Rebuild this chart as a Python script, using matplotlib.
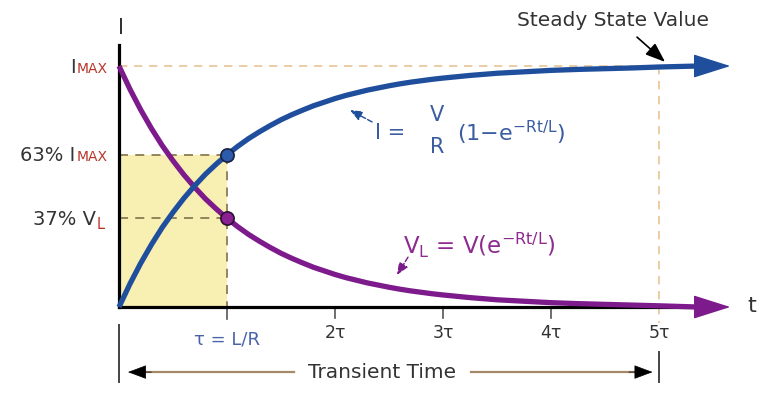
import matplotlib
matplotlib.use("Agg")
import matplotlib.pyplot as plt

plt.rcParams['font.family'] = ['DejaVu Sans']

# time in units of tau, current / voltage as fraction of the max
t_pts = [0, 0.1, 0.2, 0.3, 0.4, 0.5, 0.6, 0.7, 0.8, 0.9, 1.0, 1.1, 1.2, 1.3, 1.4, 1.5,
         1.6, 1.7, 1.8, 1.9, 2.0, 2.1, 2.2, 2.3, 2.4, 2.5, 2.6, 2.7, 2.8, 2.9, 3.0,
         3.25, 3.5, 3.75, 4.0, 4.25, 4.5, 4.75, 5.0, 5.36, 5.66]
i_vals = [0, 0.095, 0.181, 0.259, 0.330, 0.393, 0.451, 0.503, 0.551, 0.593, 0.632, 0.667,
          0.699, 0.727, 0.753, 0.777, 0.798, 0.817, 0.835, 0.850, 0.865, 0.878, 0.889, 0.900,
          0.909, 0.918, 0.926, 0.933, 0.939, 0.945, 0.950, 0.961, 0.970, 0.976, 0.982, 0.986,
          0.989, 0.992, 0.996, 1.0, 1.0]
v_vals = [1.0, 0.905, 0.819, 0.741, 0.670, 0.607, 0.549, 0.497, 0.449, 0.407, 0.368, 0.333,
          0.301, 0.273, 0.247, 0.223, 0.202, 0.183, 0.165, 0.150, 0.135, 0.122, 0.111, 0.100,
          0.091, 0.082, 0.074, 0.067, 0.061, 0.055, 0.050, 0.039, 0.030, 0.024, 0.018, 0.014,
          0.011, 0.008, 0.005, 0.0, 0.0]
tick_pos = [2, 3, 4, 5]
tick_labels = ["2τ", "3τ", "4τ", "5τ"]

blue = "#1f4f9c"
purple = "#7d1a8c"
grey = "#333333"
red = "#b8352a"

fig = plt.figure(figsize=(7.68, 4.01), dpi=100)
ax = fig.add_axes([0, 0, 1, 1])
ax.set_xlim(-1.102, 6.009)
ax.set_ylim(-0.390, 1.274)
ax.axis("off")

k = t_pts.index(1.0)

# shaded first time constant
ax.fill_between([0, t_pts[k]], 0, i_vals[k], color="#f8efb3", lw=0, zorder=1)

# guide lines
ax.plot([0, 5], [1, 1], ls=(0, (5, 4)), color="#e7c594", lw=1.2, zorder=2)
ax.plot([5, 5], [1, -0.066], ls=(0, (5, 4)), color="#e7c594", lw=1.2, zorder=2)
ax.plot([0, 1], [i_vals[k], i_vals[k]], ls=(0, (5, 4)), color="#8c7b55", lw=1.3, zorder=2)
ax.plot([0, 1], [v_vals[k], v_vals[k]], ls=(0, (5, 4)), color="#8c7b55", lw=1.3, zorder=2)
ax.plot([1, 1], [i_vals[k], 0], ls=(0, (5, 4)), color="#8c7b55", lw=1.3, zorder=2)
ax.plot([1, 1], [0, -0.05], color="#555555", lw=1.2, zorder=2)
for tp in tick_pos[:-1]:
    ax.plot([tp, tp], [0, -0.045], color="#555555", lw=1.2, zorder=2)

# axes
ax.plot([0, 0], [0, 1.087], color="black", lw=2.3, zorder=3)
ax.plot([0, 5.4], [0, 0], color="black", lw=2.3, zorder=3)

# curves
ax.plot(t_pts[:-1], v_vals[:-1], color=purple, lw=3.8, zorder=4, solid_capstyle="butt")
ax.plot(t_pts[:-1], i_vals[:-1], color=blue, lw=3.8, zorder=5, solid_capstyle="butt")
head = "-|>,head_length=1.2,head_width=0.38"
ax.annotate("", xy=(t_pts[-1], v_vals[-1]), xytext=(t_pts[-2], v_vals[-2]),
            arrowprops=dict(arrowstyle=head, mutation_scale=20, color=purple, lw=1,
                            shrinkA=0, shrinkB=0), zorder=4)
ax.annotate("", xy=(t_pts[-1], i_vals[-1]), xytext=(t_pts[-2], i_vals[-2]),
            arrowprops=dict(arrowstyle=head, mutation_scale=20, color=blue, lw=1,
                            shrinkA=0, shrinkB=0), zorder=5)

ax.plot(t_pts[k], i_vals[k], "o", ms=9.5, mfc="#2a5cab", mec="#1a2040", mew=1.2, zorder=6)
ax.plot(t_pts[k], v_vals[k], "o", ms=9.5, mfc="#8b2093", mec="#2a1030", mew=1.2, zorder=6)

# axis names
ax.text(0.02, 1.158, "I", fontsize=15, color=grey, ha="center", va="center")
ax.text(5.86, 0.004, "t", fontsize=16, color=grey, ha="center", va="center")

# y labels
for yv, pre in [(1.0, "I"), (i_vals[k], "63% I")]:
    ax.text(-0.405, yv - 0.027, pre, fontsize=14, color=grey, ha="right", va="baseline")
    ax.text(-0.389, yv - 0.027, "MAX", fontsize=10, color=red, ha="left", va="baseline")
ax.text(-0.21, v_vals[k] - 0.027, "37% V", fontsize=14, color=grey, ha="right", va="baseline")
ax.text(-0.204, v_vals[k] - 0.045, "L", fontsize=10.5, color=red, ha="left", va="baseline")

# x labels
ax.text(1.0, -0.133, "τ = L/R", fontsize=13, color="#4a62a8", ha="center", va="center")
for tp, lab in zip(tick_pos, tick_labels):
    ax.text(tp, -0.108, lab, fontsize=12.5, color=grey, ha="center", va="center")

# transient time bracket
ax.plot([0, 0], [-0.075, -0.311], color="#444444", lw=1.4)
ax.plot([5, 5], [-0.187, -0.311], color="#444444", lw=1.4)
ax.plot([0.12, 1.62], [-0.27, -0.27], color="#a58a6a", lw=1.6)
ax.plot([3.26, 4.9], [-0.27, -0.27], color="#a58a6a", lw=1.6)
ax.annotate("", xy=(0.083, -0.27), xytext=(0.3, -0.27),
            arrowprops=dict(arrowstyle="-|>,head_length=0.8,head_width=0.3",
                            mutation_scale=15, color="black", lw=0.5, shrinkA=0, shrinkB=0))
ax.annotate("", xy=(4.94, -0.27), xytext=(4.72, -0.27),
            arrowprops=dict(arrowstyle="-|>,head_length=0.8,head_width=0.3",
                            mutation_scale=15, color="black", lw=0.5, shrinkA=0, shrinkB=0))
ax.text(2.435, -0.27, "Transient Time", fontsize=14.5, color=grey, ha="center", va="center")

# steady state
ax.text(4.574, 1.191, "Steady State Value", fontsize=14.5, color=grey, ha="center", va="center")
ax.annotate("", xy=(5.056, 1.017), xytext=(4.796, 1.12),
            arrowprops=dict(arrowstyle="-|>,head_length=0.8,head_width=0.3",
                            mutation_scale=15, color="black", lw=1.2, shrinkA=0, shrinkB=0))

# current equation
eq_blue = "#3a5ca0"
ax.text(2.37, 0.722, "I =", fontsize=15, color=eq_blue, ha="left", va="center")
ax.text(2.944, 0.797, "V", fontsize=15, color=eq_blue, ha="center", va="center")
ax.text(2.944, 0.664, "R", fontsize=15, color=eq_blue, ha="center", va="center")
ax.text(3.13, 0.722, r"(1$-$e$^{\mathregular{-Rt/L}}$)", fontsize=16, color=eq_blue,
        ha="left", va="center")
ax.annotate("", xy=(2.139, 0.817), xytext=(2.343, 0.768),
            arrowprops=dict(arrowstyle="-|>,head_length=0.6,head_width=0.25",
                            mutation_scale=12, color=blue, lw=1, ls="--",
                            shrinkA=0, shrinkB=0))

# voltage equation
ax.text(2.63, 0.257, r"V$_{\mathregular{L}}$ = V(e$^{\mathregular{-Rt/L}}$)", fontsize=16.5,
        color="#8e2a90", ha="left", va="center")
ax.annotate("", xy=(2.574, 0.133), xytext=(2.676, 0.207),
            arrowprops=dict(arrowstyle="-|>,head_length=0.6,head_width=0.25",
                            mutation_scale=12, color=purple, lw=1, ls="--",
                            shrinkA=0, shrinkB=0))

fig.savefig("out.png", dpi=100)
